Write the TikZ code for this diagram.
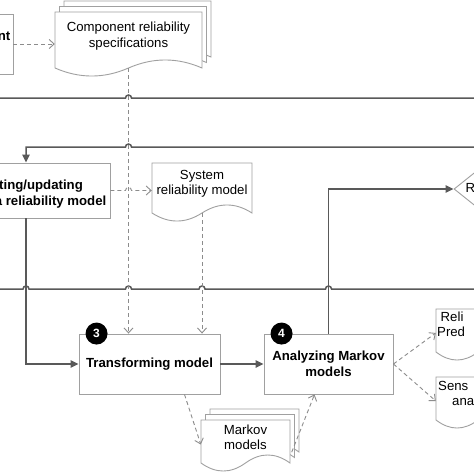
\documentclass[tikz,border=0pt]{standalone}
\usepackage{fontspec}
\setmainfont{Liberation Sans}
\usetikzlibrary{arrows.meta,shapes.geometric,calc}
\definecolor{boxgray}{HTML}{A0A0A0}
\definecolor{flowgray}{HTML}{595959}
\definecolor{dashgray}{HTML}{8C8C8C}
\newcommand{\diagfont}{\fontsize{13.2}{15.5}\selectfont}
\tikzset{
  stepbox/.style={draw=boxgray, line width=0.9pt, fill=white, inner sep=0pt},
  boldtext/.style={font=\diagfont\bfseries},
  doctext/.style={inner sep=0pt, align=center},
  docborder/.style={draw=boxgray, line width=0.9pt, fill=white},
  frag/.style={inner sep=0pt, text height=9.5pt, text depth=2.5pt},
  flow/.style={draw=flowgray, line width=1.5pt},
  flowarrow/.style={flow, -{Triangle[length=8pt,width=7.5pt]}},
  dataflow/.style={draw=dashgray, line width=0.9pt, dash pattern=on 4pt off 3pt,
    -{Straight Barb[length=5pt,width=9pt]}},
  badge/.style={circle, fill=black, text=white, inner sep=0pt, minimum size=22pt,
    font=\fontsize{12}{12}\selectfont\bfseries},
}
% document sheet: left x, top y, width, bottom line y
\newcommand{\docoutline}[4]{%
  \path[docborder] (#1,#2) -- (#1+#3,#2) -- (#1+#3,#4)
    .. controls (#1+0.8333*#3,#4-10.7) and (#1+0.6667*#3,#4-10.7) .. (#1+0.5*#3,#4)
    .. controls (#1+0.3333*#3,#4+10.7) and (#1+0.1667*#3,#4+10.7) .. (#1,#4) -- cycle;}
% jump over a crossing line, left to right
\newcommand{\hopr}[2]{-- (#1-3,#2) arc[start angle=180,end angle=360,radius=3]}
\begin{document}
\begin{tikzpicture}[x=1pt, y=-1pt, font=\diagfont]
  \useasboundingbox (0,0) rectangle (474,474);
  \clip (0,0) rectangle (474,474);
  \fill[white] (0,0) rectangle (474,474);

  % steps
  \node[stepbox, minimum width=93pt, minimum height=60pt] (req) at (-33.5,44) {};
  \node[frag, boldtext, anchor=east] (reqtxt) at (10.5,37) {nt};
  \node[stepbox, minimum width=168pt, minimum height=55pt] (create) at (26,190.5) {};
  \node[frag, boldtext, anchor=east] (createtxta) at (83,186) {ting/updating};
  \node[frag, boldtext, anchor=east] (createtxtb) at (106.5,202) {a reliability model};
  \node[stepbox, boldtext, minimum width=141pt, minimum height=60pt] (transform) at (149.5,364) {Transforming model};
  \node[stepbox, boldtext, align=center, minimum width=129pt, minimum height=60pt] (analyze) at (328.5,364) {Analyzing Markov\\models};
  \node[badge] (badge3) at ([xshift=18pt]transform.north west) {3};
  \node[badge] (badge4) at ([xshift=18pt]analyze.north west) {4};
  \node[diamond, draw=boxgray, line width=0.9pt, fill=white, inner sep=0pt,
    minimum width=80pt, minimum height=64pt] (decide) at (494,189) {};
  \node[frag, anchor=west] (decidetxt) at (465.5,189) {R};

  % documents
  \docoutline{64}{1}{147}{57}
  \docoutline{59.5}{6.5}{147}{62.5}
  \docoutline{55}{12}{147}{68}
  \node[doctext, minimum width=147pt, minimum height=48pt] (compspec) at (128.5,36) {Component reliability\\specifications};
  \docoutline{152}{163}{100}{213}
  \node[doctext, minimum width=100pt, minimum height=42pt] (sysmodel) at (202,184) {System\\reliability model};
  \docoutline{210}{409}{89}{452}
  \docoutline{205.5}{414.5}{89}{457.5}
  \docoutline{201}{420}{89}{463}
  \node[doctext, minimum width=89pt, minimum height=35pt] (markov) at (245.5,437.5) {Markov\\models};
  \docoutline{436}{309}{84}{352}
  \node[doctext, minimum width=84pt, minimum height=35pt] (reli) at (478,326.5) {};
  \node[frag, anchor=west] (relitxta) at (440.5,318) {Reli};
  \node[frag, anchor=west] (relitxtb) at (437,333) {Pred};
  \docoutline{436}{377}{84}{420}
  \node[doctext, minimum width=84pt, minimum height=35pt] (sens) at (478,394.5) {};
  \node[frag, anchor=west] (senstxta) at (438,387) {Sens};
  \node[frag, anchor=west] (senstxtb) at (452,402) {ana};

  % lane lines
  \coordinate (laneAl) at (-20,98);
  \coordinate (laneAr) at (494,98);
  \coordinate (fbin) at (494,147);
  \coordinate (laneCl) at (-20,289);
  \coordinate (laneCr) at (494,289);
  \draw[flow] (laneAl) \hopr{128.5}{98} -- (laneAr);
  \draw[flowarrow] (fbin) -- (131.5,147) arc[start angle=0,end angle=-180,radius=3]
    -- (create.north |- fbin) -- (create.north);
  \draw[flow] (laneCl) \hopr{26}{289} \hopr{128.5}{289} \hopr{202}{289} \hopr{328.5}{289} -- (laneCr);

  % control flow
  \draw[flowarrow] (create.south) |- (transform.west);
  \draw[flowarrow] (transform.east) -- (analyze.west);
  \draw[flowarrow] (analyze.north) |- (decide.west);

  % data flow
  \draw[dataflow] (req.east) -- (req.east -| compspec.west);
  \draw[dataflow] ($(compspec.south)+(0,8)$) -- (compspec.south |- transform.north);
  \draw[dataflow] (create.east) \hopr{128.5}{190.5} -- (create.east -| sysmodel.west);
  \draw[dataflow] ($(sysmodel.south)+(0,8)$) -- (sysmodel.south |- transform.north);
  \draw[dataflow] ([xshift=35pt]transform.south) -- ([yshift=-7pt]markov.west);
  \draw[dataflow] ([xshift=1.5pt,yshift=3pt]markov.south east) -- ([xshift=-14pt]analyze.south);
  \draw[dataflow] (analyze.east) -- ([yshift=-6.5pt]reli.west);
  \draw[dataflow] (analyze.east) -- ([yshift=-6.5pt]sens.west);
\end{tikzpicture}
\end{document}
